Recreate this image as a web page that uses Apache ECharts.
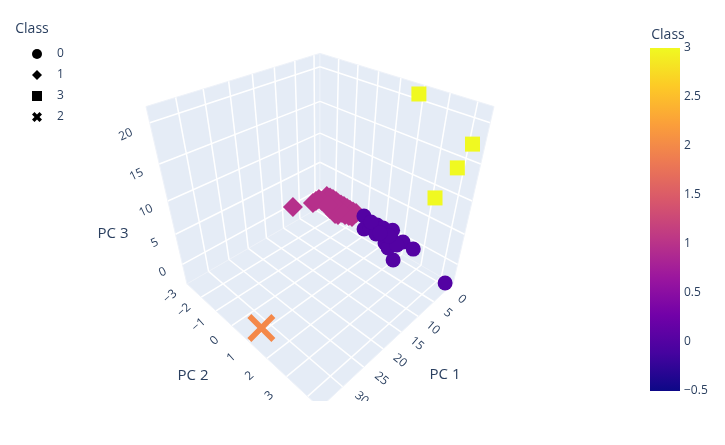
<!DOCTYPE html>
<html>
<head>
<meta charset="utf-8">
<style>
    html, body { margin: 0; padding: 0; background: #fff; }
    #chart { width: 725px; height: 445px; }
</style>
<script src="https://cdn.jsdelivr.net/npm/echarts@6/dist/echarts.min.js"></script>
</head>
<body>
<div id="chart"></div>
<script>
// values: [PC 1, PC 2, PC 3]
const class0 = [
    [-1.23, -1.16, -0.23], [2.23, -0.54, -0.23], [1.10, -0.40, -0.23], [-0.73, -0.32, -0.23],
    [-0.82, 0.00, -0.23], [-1.60, 0.39, -0.23], [2.73, 0.69, -0.23], [0.97, 0.78, -0.23],
    [-0.07, 1.18, -0.23], [0.29, 1.75, -0.23], [5.67, 1.58, -0.23], [3.54, 0.98, -0.23],
    [1.55, 1.12, -0.23], [1.78, 0.05, -0.23], [0.75, 0.36, -0.23], [1.08, 3.47, -2.26],
    [-0.65, -0.65, -0.23], [0.42, 0.52, -0.23], [0.93, 0.12, -0.23]
];
const class1 = [
    [7.36, -3.93, -0.23], [3.13, -3.51, -0.23], [1.04, -3.55, -0.23], [-1.10, -3.46, -0.23],
    [-1.21, -3.08, -0.23], [-0.86, -2.69, -0.23], [-0.93, -2.32, -0.23], [-0.77, -1.92, -0.23],
    [-0.84, -1.56, -0.23], [2.67, -2.18, -0.23], [1.32, -2.01, -0.23], [1.06, -1.64, -0.23],
    [2.09, -2.61, -0.23], [1.21, -3.12, -0.23], [0.99, -2.39, -0.23], [0.44, -2.05, -0.23],
    [-1.16, -3.26, -0.23], [-1.12, -2.86, -0.23], [-0.89, -2.50, -0.23], [-0.85, -2.11, -0.23],
    [-0.81, -1.74, -0.23], [2.49, -2.03, -0.23], [1.41, -1.81, -0.23], [0.87, -1.49, -0.23],
    [0.80, -2.24, -0.23], [0.24, -2.79, -0.23], [1.13, -3.33, -0.23], [2.09, -3.53, -0.23],
    [1.32, -2.90, -0.23]
];
const class2 = [[33.9, 0.54, -0.23]];
const class3 = [[-0.71, 0.94, 20.9], [-0.71, 3.21, 17.3], [-0.71, 2.85, 13.8], [-0.71, 2.21, 8.6]];

const pc1Ticks = [0, 5, 10, 15, 20, 25, 30];
const pc2Ticks = [-3, -2, -1, 0, 1, 2, 3];
const pc3Ticks = [0, 5, 10, 15, 20];
const pc1Range = [-1.63, 34.97];
const pc2Range = [-4.03, 3.55];
const pc3Range = [-3.52, 21.8];

const colorbarTicks = [-0.5, 3];
const plasma = ['#0d0887', '#46039f', '#7201a8', '#9c179e', '#bd3786', '#d8576b', '#ed7953', '#fb9f3a', '#fdca26', '#f0f921'];

const textColor = '#2a3f5f';
const fontFamily = '"Open Sans", Verdana, sans-serif';
const crossPath = 'path://M4,0 L14,10 L24,0 L28,4 L18,14 L28,24 L24,28 L14,18 L4,28 L0,24 L10,14 L0,4 Z';
const legendCross = 'path://M7,0 L14,7 L21,0 L28,7 L21,14 L28,21 L21,28 L14,21 L7,28 L0,21 L7,14 L0,7 Z';

// camera of the 3d scene, looking at the box [-1, 1]^3 from (+, +, +)
const camera = { cx: 320, cy: 207, focal: 461.6, dist: 4.33 };

const norm = (v, range) => -1 + 2 * (v - range[0]) / (range[1] - range[0]);

const projectNorm = (x, y, z) => {
    const right = (y - x) / Math.SQRT2;
    const up = (2 * z - x - y) / Math.sqrt(6);
    const depth = camera.dist - (x + y + z) / Math.sqrt(3);
    return [camera.cx + camera.focal * right / depth, camera.cy - camera.focal * up / depth];
};

const project = d => projectNorm(norm(d[0], pc1Range), norm(d[1], pc2Range), norm(d[2], pc3Range));

const nx = v => norm(v, pc1Range);
const ny = v => norm(v, pc2Range);
const nz = v => norm(v, pc3Range);

const renderScene = (params, api) => {
    const pt = (x, y, z) => api.coord(projectNorm(x, y, z));
    const face = corners => ({
        type: 'polygon',
        shape: { points: corners.map(c => pt(c[0], c[1], c[2])) },
        style: { fill: '#e5ecf6', stroke: '#eef2f9', lineWidth: 1 }
    });
    const line = (a, b) => {
        const p = pt(a[0], a[1], a[2]);
        const q = pt(b[0], b[1], b[2]);
        return {
            type: 'line',
            shape: { x1: p[0], y1: p[1], x2: q[0], y2: q[1] },
            style: { stroke: '#fff', lineWidth: 1.5 }
        };
    };
    const children = [
        face([[-1, -1, -1], [1, -1, -1], [1, 1, -1], [-1, 1, -1]]),
        face([[-1, -1, -1], [1, -1, -1], [1, -1, 1], [-1, -1, 1]]),
        face([[-1, -1, -1], [-1, 1, -1], [-1, 1, 1], [-1, -1, 1]])
    ];
    pc1Ticks.forEach(t => {
        const x = nx(t);
        children.push(line([x, -1, -1], [x, 1, -1]));
        children.push(line([x, -1, -1], [x, -1, 1]));
    });
    pc2Ticks.forEach(t => {
        const y = ny(t);
        children.push(line([-1, y, -1], [1, y, -1]));
        children.push(line([-1, y, -1], [-1, y, 1]));
    });
    pc3Ticks.forEach(t => {
        const z = nz(t);
        children.push(line([-1, -1, z], [1, -1, z]));
        children.push(line([-1, -1, z], [-1, 1, z]));
    });
    return { type: 'group', children: children };
};

const renderTicks = (params, api) => {
    const tickText = (v, pos, deg) => {
        const p = api.coord(projectNorm(pos[0], pos[1], pos[2]));
        return {
            type: 'text',
            x: p[0],
            y: p[1],
            rotation: deg * Math.PI / 180,
            style: {
                text: String(v).replace('-', '\u2212'),
                fill: textColor,
                font: '12px ' + fontFamily,
                textAlign: 'center',
                textVerticalAlign: 'middle'
            }
        };
    };
    const children = [];
    pc1Ticks.forEach(t => children.push(tickText(t, [nx(t) - 0.12, 1 + 0.12, -1.17], -40)));
    pc2Ticks.forEach(t => children.push(tickText(t, [1 + 0.225, ny(t) - 0.225, -0.99], 42)));
    pc3Ticks.forEach(t => children.push(tickText(t, [1 + 0.16, -1 - 0.16, nz(t) - 0.11], 25)));
    return { type: 'group', children: children };
};

const renderColorbar = (params, api) => {
    const top = api.coord([0, colorbarTicks[1]]);
    const bottom = api.coord([0, colorbarTicks[0]]);
    const stops = plasma.map((c, i) => ({ offset: 1 - i / (plasma.length - 1), color: c }));
    return {
        type: 'rect',
        shape: { x: params.coordSys.x, y: top[1], width: params.coordSys.width, height: bottom[1] - top[1] },
        style: { fill: new echarts.graphic.LinearGradient(0, 0, 0, 1, stops) }
    };
};

const scatterSeries = (name, data, symbol, size, color, z) => ({
    type: 'scatter',
    name: name,
    data: data.map(project),
    symbol: symbol,
    symbolSize: size,
    itemStyle: { color: color, opacity: 1 },
    xAxisIndex: 0,
    yAxisIndex: 0,
    z: z,
    silent: true
});

const axisTitle = (text, x, y, size) => ({
    type: 'text',
    x: x,
    y: y,
    style: { text: text, fill: textColor, font: size + 'px ' + fontFamily, textAlign: 'center', textVerticalAlign: 'middle' }
});

const myChart = echarts.init(document.getElementById('chart'), null, { renderer: 'canvas', width: 725, height: 445 });

myChart.setOption({
    animation: false,
    backgroundColor: '#fff',
    grid: [
        { left: 0, top: 0, width: 725, height: 401 },
        { left: 650, top: 48, width: 30, height: 343 }
    ],
    xAxis: [
        { type: 'value', gridIndex: 0, min: 0, max: 725, show: false },
        { type: 'value', gridIndex: 1, min: 0, max: 1, show: false }
    ],
    yAxis: [
        { type: 'value', gridIndex: 0, min: 0, max: 401, inverse: true, show: false },
        {
            type: 'value',
            gridIndex: 1,
            position: 'right',
            min: -0.5,
            max: 3,
            interval: 0.5,
            axisLine: { show: false },
            axisTick: { show: false },
            splitLine: { show: false },
            axisLabel: {
                color: textColor,
                fontFamily: fontFamily,
                fontSize: 12,
                margin: 4,
                formatter: v => String(v).replace('-', '\u2212')
            }
        }
    ],
    legend: {
        left: 27,
        top: 43,
        orient: 'vertical',
        itemWidth: 10,
        itemHeight: 10,
        itemGap: 9,
        selectedMode: false,
        textStyle: { color: textColor, fontFamily: fontFamily, fontSize: 12, padding: [0, 0, 0, 10] },
        data: [
            { name: '0', icon: 'circle', itemStyle: { color: '#000' } },
            { name: '1', icon: 'diamond', itemStyle: { color: '#000' } },
            { name: '3', icon: 'rect', itemStyle: { color: '#000' } },
            { name: '2', icon: legendCross, itemStyle: { color: '#000' } }
        ]
    },
    graphic: [
        axisTitle('Class', 32, 29, 14),
        axisTitle('Class', 668, 35, 14),
        axisTitle('PC 3', 113, 234, 15),
        axisTitle('PC 2', 193, 376, 15),
        axisTitle('PC 1', 445, 375, 15)
    ],
    series: [
        { type: 'custom', name: 'scene', xAxisIndex: 0, yAxisIndex: 0, data: [0], renderItem: renderScene, clip: true, z: 1, silent: true },
        { type: 'custom', name: 'ticks', xAxisIndex: 0, yAxisIndex: 0, data: [0], renderItem: renderTicks, clip: true, z: 1, silent: true },
        scatterSeries('1', class1, 'diamond', 20, '#b6308b', 3),
        scatterSeries('0', class0, 'circle', 15, '#5302a3', 4),
        scatterSeries('3', class3, 'rect', 15, '#f0f921', 3),
        scatterSeries('2', class2, crossPath, 28, '#f48849', 3),
        { type: 'custom', name: 'colorbar', xAxisIndex: 1, yAxisIndex: 1, data: [0], renderItem: renderColorbar, silent: true }
    ]
});
</script>
</body>
</html>
